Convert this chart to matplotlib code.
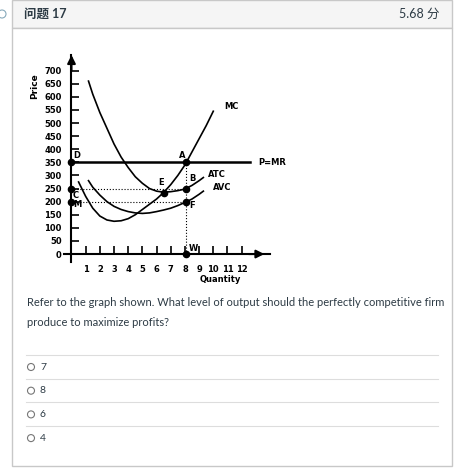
import matplotlib
matplotlib.use("Agg")
import matplotlib.pyplot as plt
from matplotlib.patches import Rectangle, Circle

plt.rcParams['font.family'] = ['Lato', 'Noto Sans CJK SC', 'DejaVu Sans']

mc_x = [0.5,1,1.5,2,2.5,3,3.5,4,4.5,5,5.5,6,6.5,7,7.5,8,8.5,9,9.5,10]
mc_y = [275,220,175,145,130,125,127,135,150,170,190,210,235,265,300,340,390,440,490,545]
atc_x = [1.2,1.5,2,2.5,3,3.5,4,4.5,5,5.5,6,6.5,7,7.5,8,8.5,9,9.3]
atc_y = [660,610,540,480,420,370,330,295,270,250,240,236,238,242,248,262,280,292]
avc_x = [1.2,1.5,2,2.5,3,3.5,4,4.5,5,5.5,6,6.5,7,7.5,8,8.5,9,9.3]
avc_y = [280,255,225,200,182,170,162,157,155,157,162,168,175,185,197,210,228,240]
price = 350
q_star = 8.1
atc_star = 250
avc_star = 200
e_pt = (6.5, 232)
x_ticks = list(range(1, 13))
y_ticks = list(range(0, 701, 50))
options = ["7", "8", "6", "4"]

fig = plt.figure(figsize=(4.74, 4.74), dpi=100)
bg = fig.add_axes([0, 0, 1, 1])
bg.set_xlim(0, 474); bg.set_ylim(474, 0); bg.axis('off')
bg.add_patch(Rectangle((12, 0), 440, 28, facecolor='#f5f5f5', edgecolor='#c8c8c8', lw=1))
bg.add_patch(Rectangle((12, 28), 440, 438, facecolor='white', edgecolor='#c8c8c8', lw=1))
bg.add_patch(Circle((2, 14), 4, facecolor='none', edgecolor='#8ab', lw=0.8))
bg.text(24, 14, "问题 17", fontsize=9, fontweight='bold', va='center', color='#2d3b45')
bg.text(440, 14, "5.68 分", fontsize=9, va='center', ha='right', color='#2d3b45')
bg.text(27, 303, "Refer to the graph shown. What level of output should the perfectly competitive firm",
        fontsize=8, va='center', color='#2d3b45')
bg.text(27, 322, "produce to maximize profits?", fontsize=8, va='center', color='#2d3b45')
for i, o in enumerate(options):
    yy = 367 + i * 23.7
    bg.plot([26, 438], [yy - 12, yy - 12], color='#dddddd', lw=0.8)
    bg.add_patch(Circle((31, yy), 3.5, facecolor='white', edgecolor='#777', lw=0.8))
    bg.text(40, yy, o, fontsize=7.5, va='center', color='#2d3b45')

ax = fig.add_axes([64.4/474, 1-261.9/474, 205.6/474, 207/474])
ax.set_xlim(-0.5, 14); ax.set_ylim(-30, 760)
ax.patch.set_alpha(0)
for s in ['top', 'right']:
    ax.spines[s].set_visible(False)
ax.spines['left'].set_position(('data', 0))
ax.spines['bottom'].set_position(('data', 0))
ax.spines['left'].set_linewidth(1.5); ax.spines['bottom'].set_linewidth(1.5)
ax.set_xticks(x_ticks); ax.set_yticks(y_ticks)
ax.set_xticklabels([str(t) for t in x_ticks], fontsize=6, fontweight='bold', family='DejaVu Sans')
ax.set_yticklabels([str(t) for t in y_ticks], fontsize=6, fontweight='bold', family='DejaVu Sans')
ax.tick_params(axis='both', direction='in', length=6, width=1.2)
ax.tick_params(axis='y', pad=7)
ax.tick_params(axis='x', pad=8)
ax.annotate('', xy=(0, 770), xytext=(0, 690), arrowprops=dict(arrowstyle='-|>', color='black', lw=1.5, mutation_scale=12), annotation_clip=False)
ax.annotate('', xy=(13.8, 0), xytext=(12.3, 0), arrowprops=dict(arrowstyle='-|>', color='black', lw=1.5, mutation_scale=12), annotation_clip=False)

ax.plot(mc_x, mc_y, color='black', lw=1.2)
ax.plot(atc_x, atc_y, color='black', lw=1.2)
ax.plot(avc_x, avc_y, color='black', lw=1.2)
ax.plot([0, 12.6], [price, price], color='black', lw=1.8)
ax.plot([0, q_star], [atc_star, atc_star], color='black', lw=0.8, ls=':')
ax.plot([0, q_star], [avc_star, avc_star], color='black', lw=0.8, ls=':')
ax.plot([q_star, q_star], [0, price], color='black', lw=0.8, ls=':')
ax.scatter([0, 0, 0, q_star, q_star, q_star, e_pt[0], q_star],
           [price, atc_star, avc_star, price, atc_star, avc_star, e_pt[1], 0],
           color='black', s=20, zorder=5, clip_on=False)
lab = dict(fontsize=6, fontweight='bold', family='DejaVu Sans')
ax.text(0.15, 365, 'D', **lab)
ax.text(0.1, 215, 'C', **lab)
ax.text(0.15, 180, 'M', **lab)
ax.text(7.6, 368, 'A', **lab)
ax.text(8.3, 280, 'B', **lab)
ax.text(8.3, 175, 'F', **lab)
ax.text(6.1, 262, 'E', **lab)
ax.text(8.3, 10, 'W', **lab)
ax.text(10.75, 555, 'MC', **lab)
ax.text(9.6, 293, 'ATC', **lab)
ax.text(10.0, 243, 'AVC', **lab)
ax.text(13.2, 340, 'P=MR', **lab)
ax.text(10.5, -105, 'Quantity', fontsize=6, fontweight='bold', family='DejaVu Sans', ha='center')
ax.text(-2.6, 640, 'Price', fontsize=6.5, fontweight='bold', family='DejaVu Sans', rotation=90, ha='center', va='center')

fig.savefig('out.png', dpi=100)
